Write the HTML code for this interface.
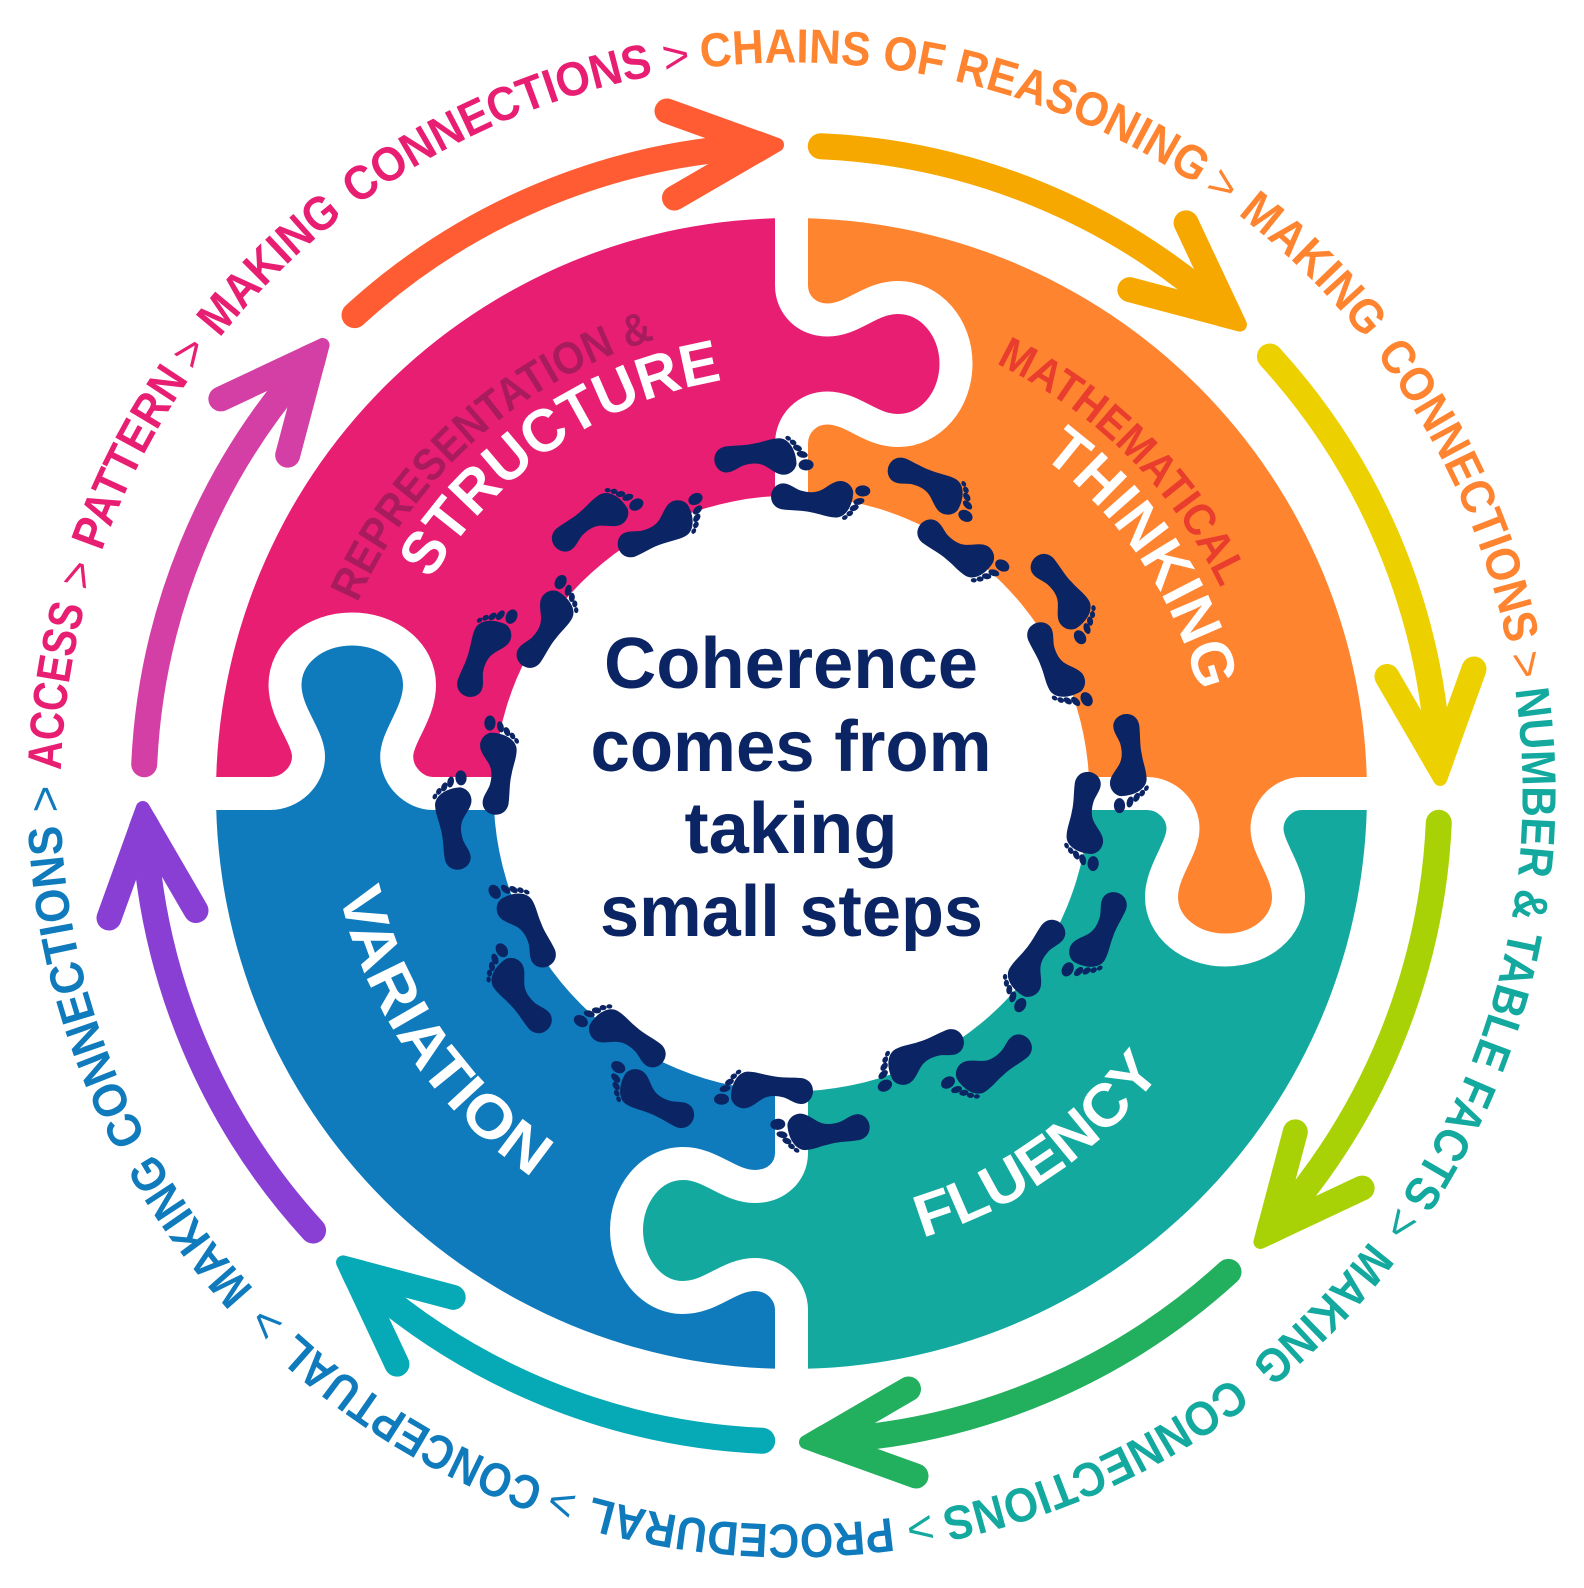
<!DOCTYPE html>
<html lang="en">
<head>
<meta charset="utf-8">
<title>Coherence comes from taking small steps</title>
<style>
html,body{margin:0;padding:0;background:#fff}
svg{display:block}
text{font-family:"Liberation Sans",sans-serif;font-weight:700}
.ring{font-size:48px}
.gt{font-size:46px;font-weight:400}
.big{font-size:60px;fill:#fff}
.mid{font-size:45px}
.c{font-size:72px;fill:#0B2463;text-anchor:middle}
</style>
</head>
<body>
<svg xmlns="http://www.w3.org/2000/svg" width="1584" height="1588" viewBox="0 0 1584 1588">
<defs>
<path id="r731" d="M0,-731A731,731 0 1 1 0,731A731,731 0 1 1 0,-731A731,731 0 1 1 0,731A731,731 0 1 1 0,-731"/>
<path id="r419" d="M0,-419A419,419 0 1 1 0,419A419,419 0 1 1 0,-419"/>
<path id="r420" d="M0,-420A420,420 0 1 1 0,420A420,420 0 1 1 0,-420"/>
<path id="r474" d="M0,-474A474,474 0 1 1 0,474A474,474 0 1 1 0,-474"/>
<path id="r476" d="M0,-476A476,476 0 1 1 0,476A476,476 0 1 1 0,-476"/>
<path id="c463" d="M0,-463A463,463 0 1 0 0,463A463,463 0 1 0 0,-463"/>
<g id="f" fill="#0B2463">
<path transform="scale(1.08 1)" d="M-7,-43C-13,-42 -17,-36 -17,-30C-17,-23 -11,-17 -8,-11C-5,-5 -5,2 -7,10C-9,16 -13,21 -13,27C-13,34 -7,39 -1,39C6,39 10,34 11,28C12,18 11,8 13,-2C14,-10 17,-18 17,-26C17,-36 6,-43 -7,-43Z"/>
<ellipse cx="-9.2" cy="-52.5" rx="5.6" ry="7.5"/>
<ellipse cx="1.4" cy="-49" rx="3.3" ry="5.6" transform="rotate(-15 1.4 -49)"/>
<ellipse cx="8" cy="-44.5" rx="3" ry="4.7" transform="rotate(-25 8 -44.5)"/>
<ellipse cx="13.7" cy="-40.3" rx="2.6" ry="3.5" transform="rotate(-30 13.7 -40.3)"/>
<ellipse cx="18" cy="-35.5" rx="2.2" ry="3" transform="rotate(-30 18 -35.5)"/>
</g>
<g id="arrow" fill="none" stroke="currentColor" stroke-linecap="round">
<path d="M-437,-478.4A648,648 0 0 1 -36.5,-647" stroke-width="26"/>
<path d="M-124.5,-682.5L-27.5,-647.5L-117,-595.5" stroke-width="25" stroke-linejoin="round"/>
<path d="M-14.5,-648.7L-33.3,-655.5L-31.8,-638.6Z" fill="currentColor" stroke-width="14" stroke-linejoin="round"/>
</g>
</defs>

<rect width="1584" height="1588" fill="#fff"/>

<g transform="translate(791.5 793.5)">
<!-- quadrants -->
<path fill="#E81E72" d="M0,-575.5A575.5,575.5 0 0 0 -575.5,0H-297.9A297.9,297.9 0 0 1 0,-297.9Z"/>
<path fill="#FF8430" d="M0,-575.5A575.5,575.5 0 0 1 575.5,0H297.9A297.9,297.9 0 0 0 0,-297.9Z"/>
<path fill="#14A99F" d="M575.5,0A575.5,575.5 0 0 1 0,575.5V297.9A297.9,297.9 0 0 0 297.9,0Z"/>
<path fill="#0F7BBC" d="M0,575.5A575.5,575.5 0 0 1 -575.5,0H-297.9A297.9,297.9 0 0 0 0,297.9Z"/>
<!-- tabs -->
<path fill="#E81E72" d="M0,-508C0,-488 16,-473.5 35.5,-473.5C62,-473.5 78,-496 106.5,-496C139,-496 164.5,-466 164.5,-430C164.5,-393 139,-363 106.5,-363C78,-363 62,-385.5 35.5,-385.5C16,-385.5 0,-370 0,-350Z"/>
<path fill="#FF8430" d="M510,0C492,0 475.5,16 475.5,35C475.5,55 497,78 497,103.5C497,133 470,156.5 434,156.5C398,156.5 370,133 370,103.5C370,78 391.5,55 391.5,35C391.5,16 375,0 355.5,0Z"/>
<path fill="#14A99F" d="M0,516.5C0,497 -16,481 -36.5,481C-63,481 -80,504 -108.5,504C-141,504 -165,472 -165,436.5C-165,401 -141,370 -108.5,370C-80,370 -63,393 -36.5,393C-16,393 0,379 0,359.5Z"/>
<path fill="#0F7BBC" d="M-521.5,0C-501,0 -483,-17 -483,-37C-483,-57 -506.5,-80 -506.5,-108.5C-506.5,-140 -477,-164.5 -439.5,-164.5C-402,-164.5 -372,-140 -372,-108.5C-372,-80 -394.8,-57 -394.8,-37C-394.8,-17 -377,0 -358.5,0Z"/>
<!-- white seams -->
<g fill="none" stroke="#fff" stroke-width="33">
<path d="M0,-580V-508C0,-488 16,-473.5 35.5,-473.5C62,-473.5 78,-496 106.5,-496C139,-496 164.5,-466 164.5,-430C164.5,-393 139,-363 106.5,-363C78,-363 62,-385.5 35.5,-385.5C16,-385.5 0,-370 0,-350V-290"/>
<path d="M580,0H510C492,0 475.5,16 475.5,35C475.5,55 497,78 497,103.5C497,133 470,156.5 434,156.5C398,156.5 370,133 370,103.5C370,78 391.5,55 391.5,35C391.5,16 375,0 355.5,0H290"/>
<path d="M0,580V516.5C0,497 -16,481 -36.5,481C-63,481 -80,504 -108.5,504C-141,504 -165,472 -165,436.5C-165,401 -141,370 -108.5,370C-80,370 -63,393 -36.5,393C-16,393 0,379 0,359.5V290"/>
<path d="M-580,0H-521.5C-501,0 -483,-17 -483,-37C-483,-57 -506.5,-80 -506.5,-108.5C-506.5,-140 -477,-164.5 -439.5,-164.5C-402,-164.5 -372,-140 -372,-108.5C-372,-80 -394.8,-57 -394.8,-37C-394.8,-17 -377,0 -358.5,0H-290"/>
</g>

<!-- arrows -->
<use href="#arrow" color="#FF5C33"/>
<use href="#arrow" color="#F7A800" transform="rotate(45)"/>
<use href="#arrow" color="#EDD000" transform="rotate(90)"/>
<use href="#arrow" color="#A8D205" transform="rotate(135)"/>
<use href="#arrow" color="#22B05E" transform="rotate(180)"/>
<use href="#arrow" color="#06AAB6" transform="rotate(225)"/>
<use href="#arrow" color="#8A3FD4" transform="rotate(270)"/>
<use href="#arrow" color="#D43FA5" transform="rotate(315)"/>

<!-- ring text -->
<g fill="#E81E72">
<text class="ring"><textPath href="#r731" startOffset="3467.7" textLength="165.9" lengthAdjust="spacingAndGlyphs">ACCESS</textPath></text>
<text class="gt"><textPath href="#r731" startOffset="3648.9">&gt;</textPath></text>
<text class="ring"><textPath href="#r731" startOffset="3690.9" textLength="193.9" lengthAdjust="spacingAndGlyphs">PATTERN</textPath></text>
<text class="gt"><textPath href="#r731" startOffset="3893.7">&gt;</textPath></text>
<text class="ring"><textPath href="#r731" startOffset="3935.8" textLength="174.8" lengthAdjust="spacingAndGlyphs">MAKING</textPath></text>
<text class="ring"><textPath href="#r731" startOffset="4127.2" textLength="326.6" lengthAdjust="spacingAndGlyphs">CONNECTIONS</textPath></text>
<text class="gt"><textPath href="#r731" startOffset="4465.3">&gt;</textPath></text>
</g>
<g fill="#FF8430">
<text class="ring"><textPath href="#r731" startOffset="4502.3" textLength="519.3" lengthAdjust="spacingAndGlyphs">CHAINS OF REASONING</textPath></text>
<text class="gt"><textPath href="#r731" startOffset="437.6">&gt;</textPath></text>
<text class="ring"><textPath href="#r731" startOffset="479.7" textLength="178.6" lengthAdjust="spacingAndGlyphs">MAKING</textPath></text>
<text class="ring"><textPath href="#r731" startOffset="676.2" textLength="321.5" lengthAdjust="spacingAndGlyphs">CONNECTIONS</textPath></text>
<text class="gt"><textPath href="#r731" startOffset="1007.9">&gt;</textPath></text>
</g>
<g fill="#14A99F">
<text class="ring"><textPath href="#r731" startOffset="1043.6" textLength="532" lengthAdjust="spacingAndGlyphs">NUMBER &amp; TABLE FACTS</textPath></text>
<text class="gt"><textPath href="#r731" startOffset="1584.5">&gt;</textPath></text>
<text class="ring"><textPath href="#r731" startOffset="1629.2" textLength="171" lengthAdjust="spacingAndGlyphs">MAKING</textPath></text>
<text class="ring"><textPath href="#r731" startOffset="1823.1" textLength="322.8" lengthAdjust="spacingAndGlyphs">CONNECTIONS</textPath></text>
<text class="gt"><textPath href="#r731" startOffset="2156.1">&gt;</textPath></text>
</g>
<g fill="#0F7BBC">
<text class="ring"><textPath href="#r731" startOffset="2195.6" textLength="302.4" lengthAdjust="spacingAndGlyphs">PROCEDURAL</textPath></text>
<text class="gt"><textPath href="#r731" startOffset="2512">&gt;</textPath></text>
<text class="ring"><textPath href="#r731" startOffset="2547.8" textLength="290.9" lengthAdjust="spacingAndGlyphs">CONCEPTUAL</textPath></text>
<text class="gt"><textPath href="#r731" startOffset="2853.8">&gt;</textPath></text>
<text class="ring"><textPath href="#r731" startOffset="2899.9" textLength="169.7" lengthAdjust="spacingAndGlyphs">MAKING</textPath></text>
<text class="ring"><textPath href="#r731" startOffset="3086.2" textLength="326.6" lengthAdjust="spacingAndGlyphs">CONNECTIONS</textPath></text>
<text class="gt"><textPath href="#r731" startOffset="3425.5">&gt;</textPath></text>
</g>

<!-- puzzle labels -->
<text class="mid" fill="#A81C5E"><textPath href="#r474" startOffset="2429.8" textLength="410" lengthAdjust="spacingAndGlyphs">REPRESENTATION &amp;</textPath></text>
<text class="big"><textPath href="#r419" startOffset="2197.6" textLength="365" lengthAdjust="spacingAndGlyphs">STRUCTURE</textPath></text>
<text class="mid" fill="#E93D2E"><textPath href="#r476" startOffset="211" textLength="324" lengthAdjust="spacingAndGlyphs">MATHEMATICAL</textPath></text>
<text class="big"><textPath href="#r420" startOffset="267.5" textLength="289.5" lengthAdjust="spacingAndGlyphs">THINKING</textPath></text>
<text class="big"><textPath href="#c463" startOffset="1587" textLength="296" lengthAdjust="spacingAndGlyphs">FLUENCY</textPath></text>
<text class="big"><textPath href="#c463" startOffset="826.7" textLength="353" lengthAdjust="spacingAndGlyphs">VARIATION</textPath></text>
</g>

<!-- footprints -->
<use href="#f" transform="translate(480.5 660) rotate(25.6) scale(-1 1)"/>
<use href="#f" transform="translate(543.3 632.5) rotate(28.9)"/>
<use href="#f" transform="translate(586.7 524) rotate(58.7) scale(-1 1)"/>
<use href="#f" transform="translate(654 532.5) rotate(61)"/>
<use href="#f" transform="translate(753.3 457.5) rotate(88) scale(-1 1)"/>
<use href="#f" transform="translate(810 498.3) rotate(92)"/>
<use href="#f" transform="translate(924 482.4) rotate(119) scale(-1 1)"/>
<use href="#f" transform="translate(952.4 546.7) rotate(120.6)"/>
<use href="#f" transform="translate(1059 588.3) rotate(146.8) scale(-1 1)"/>
<use href="#f" transform="translate(1052.4 658.3) rotate(150)"/>
<use href="#f" transform="translate(1127.8 753) rotate(179) scale(-1 1)"/>
<use href="#f" transform="translate(1085.8 810.8) rotate(182)"/>
<use href="#f" transform="translate(1101.7 928.3) rotate(209.7) scale(-1 1)"/>
<use href="#f" transform="translate(1038.3 955) rotate(209.7)"/>
<use href="#f" transform="translate(997.3 1062.3) rotate(237.8) scale(-1 1)"/>
<use href="#f" transform="translate(927.3 1053.3) rotate(242.6)"/>
<use href="#f" transform="translate(830.8 1130) rotate(266.2) scale(-1 1)"/>
<use href="#f" transform="translate(774 1090) rotate(270)"/>
<use href="#f" transform="translate(658.3 1102.3) rotate(301.3) scale(-1 1)"/>
<use href="#f" transform="translate(630.7 1040) rotate(300.7)"/>
<use href="#f" transform="translate(523.3 999) rotate(326.3) scale(-1 1)"/>
<use href="#f" transform="translate(530 931.7) rotate(328.4)"/>
<use href="#f" transform="translate(455 830.8) rotate(356.5) scale(-1 1)"/>
<use href="#f" transform="translate(497.5 775.8) rotate(1.8)"/>

<!-- centre -->
<text class="c" x="791" y="688" textLength="374" lengthAdjust="spacingAndGlyphs">Coherence</text>
<text class="c" x="791" y="771" textLength="401" lengthAdjust="spacingAndGlyphs">comes from</text>
<text class="c" x="791" y="853" textLength="213" lengthAdjust="spacingAndGlyphs">taking</text>
<text class="c" x="791.5" y="936" textLength="383" lengthAdjust="spacingAndGlyphs">small steps</text>
</svg>
</body>
</html>
